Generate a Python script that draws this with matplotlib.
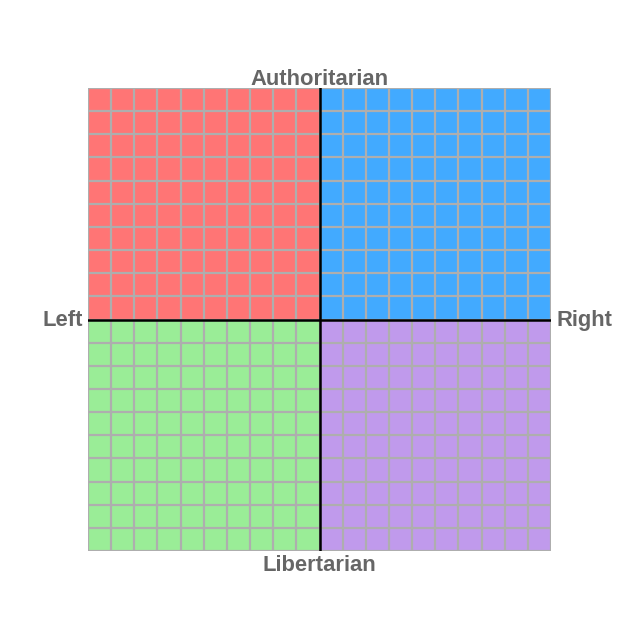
import matplotlib
matplotlib.use("Agg")
import matplotlib.pyplot as plt
from matplotlib.patches import Rectangle

# quadrants: (x0, y0) corner in compass coordinates, colour
quad_x = [-10, 0, -10, 0]
quad_y = [0, 0, -10, -10]
quad_colors = ["#ff7575", "#42aaff", "#9aed97", "#c09aec"]
grid_ticks = list(range(-10, 11))
axis_labels = {"top": "Authoritarian", "bottom": "Libertarian", "left": "Left", "right": "Right"}

plt.rcParams['font.family'] = ['Liberation Sans', 'DejaVu Sans']

fig = plt.figure(figsize=(6.4, 6.4), dpi=100)
ax = fig.add_axes([88/640, 89/640, 463/640, 463/640])

for x0, y0, col in zip(quad_x, quad_y, quad_colors):
    ax.add_patch(Rectangle((x0, y0), 10, 10, facecolor=col, edgecolor="none", zorder=0))

for t in grid_ticks:
    ax.axvline(t, color="#aeaeae", lw=1.6, zorder=1)
    ax.axhline(t, color="#aeaeae", lw=1.6, zorder=1)

ax.axvline(0, color="black", lw=1.8, zorder=2)
ax.axhline(0, color="black", lw=1.8, zorder=2)

ax.set_xlim(-10, 10)
ax.set_ylim(-10, 10)
ax.set_xticks([])
ax.set_yticks([])
for s in ax.spines.values():
    s.set_visible(False)

lab = dict(color="#666666", fontsize=15.8, fontweight="bold")
ax.text(0, 10.11, axis_labels["top"], ha="center", va="baseline", **lab)
ax.text(0, -10.86, axis_labels["bottom"], ha="center", va="baseline", **lab)
ax.text(-10.23, -0.29, axis_labels["left"], ha="right", va="baseline", **lab)
ax.text(10.22, -0.29, axis_labels["right"], ha="left", va="baseline", **lab)

fig.savefig("out.png", dpi=100)
